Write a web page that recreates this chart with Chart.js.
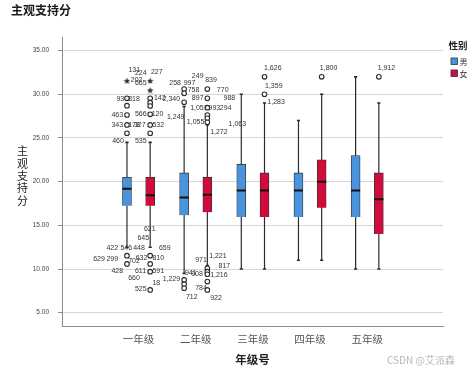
<!DOCTYPE html>
<html>
<head>
<meta charset="utf-8">
<script src="https://cdn.jsdelivr.net/npm/chart.js@4.4.0/dist/chart.umd.min.js"></script>
<style>
  html, body { margin: 0; padding: 0; background: #fff; }
  #wrap { width: 474px; height: 368px; position: relative; }
</style>
</head>
<body>
<div id="wrap"><canvas id="boxChart"></canvas></div>
<script>
const grades = ['一年级', '二年级', '三年级', '四年级', '五年级'];
const genders = ['男', '女'];
const yTicks = [5, 10, 15, 20, 25, 30, 35];

// [min, q1, median, q3, max] for each grade
const maleBox = [
  [12.5, 17.25, 19.2, 20.5, 24.5],
  [9.5, 16.2, 18.2, 21, 28.6],
  [10, 16, 19, 22, 30],
  [11, 16, 19, 21, 27],
  [10, 16, 19, 23, 32]
];
const femaleBox = [
  [12.5, 17.25, 18.45, 20.5, 24.5],
  [10.4, 16.5, 18.5, 20.5, 26.5],
  [10, 16, 19, 21, 29],
  [11, 17, 20, 22.5, 30],
  [10, 14, 18, 21, 29]
];

// outliers (circles) and extremes (stars)
const maleOutliers = [
  [29.54, 28.7, 27.63, 26.49, 25.54, 11.53, 10.58],
  [30.6, 30.11, 29.08, 8.75, 8.26, 7.8],
  [], [], []
];
const femaleOutliers = [
  [29.54, 29.04, 28.66, 27.71, 26.49, 25.54, 11.53, 10.58, 9.7, 7.61],
  [30.6, 29.54, 28.47, 27.63, 27.25, 26.8, 10.09, 9.7, 9.4, 8.56, 7.61],
  [30, 32],
  [32],
  [32]
];
const maleExtremes = [[31.56], [], [], [], []];
const femaleExtremes = [[31.56, 30.49], [], [], [], []];

// case numbers: [grade, gender (0 男 / 1 女), value, text]
const caseLabels = [
  [0, 0, 32.78, '131'], [0, 0, 31.64, '202'], [0, 0, 29.46, '93'], [0, 0, 29.46, '818'],
  [0, 0, 27.63, '463'], [0, 0, 26.49, '343'], [0, 0, 26.49, '178'], [0, 0, 24.66, '460'],
  [0, 0, 12.38, '422'], [0, 0, 12.38, '546'], [0, 0, 12.45, '448'], [0, 0, 11.16, '629'],
  [0, 0, 11.16, '299'], [0, 0, 10.93, '702'], [0, 0, 9.78, '428'], [0, 0, 8.94, '660'],
  [0, 1, 32.4, '224'], [0, 1, 32.5, '227'], [0, 1, 31.26, '665'], [0, 1, 29.54, '142'],
  [0, 1, 27.71, '566'], [0, 1, 27.71, '120'], [0, 1, 26.49, '327'], [0, 1, 26.49, '532'],
  [0, 1, 24.66, '535'], [0, 1, 14.56, '621'], [0, 1, 13.53, '645'], [0, 1, 12.45, '659'],
  [0, 1, 11.3, '632'], [0, 1, 11.3, '810'], [0, 1, 9.78, '611'], [0, 1, 9.78, '591'],
  [0, 1, 8.36, '18'], [0, 1, 7.71, '525'],
  [1, 0, 31.26, '258'], [1, 0, 31.26, '997'], [1, 0, 30.49, '758'], [1, 0, 29.43, '2,340'],
  [1, 0, 27.44, '1,249'], [1, 0, 9.52, '941'], [1, 0, 8.83, '1,229'], [1, 0, 6.84, '712'],
  [1, 1, 32.13, '249'], [1, 1, 31.64, '839'], [1, 1, 30.49, '770'], [1, 1, 29.54, '897'],
  [1, 1, 29.54, '988'], [1, 1, 28.47, '1,051'], [1, 1, 28.47, '993'], [1, 1, 28.47, '294'],
  [1, 1, 26.8, '1,055'], [1, 1, 26.57, '1,063'], [1, 1, 25.72, '1,272'], [1, 1, 11.53, '1,221'],
  [1, 1, 11.05, '971'], [1, 1, 10.3, '817'], [1, 1, 9.43, '908'], [1, 1, 9.27, '1,216'],
  [1, 1, 7.8, '784'], [1, 1, 6.73, '922'],
  [2, 1, 33.0, '1,626'], [2, 1, 30.95, '1,359'], [2, 1, 29.15, '1,283'],
  [3, 1, 33.0, '1,800'], [4, 1, 33.0, '1,912']
];
// left edge of each case label, px from its box centre (same order as caseLabels)
const labelDx = [
  1.5, 3.8, -10.5, 1.2, -15.5, -15.5, 1.2, -14.8,
  -20.5, -6.5, 6.2, -33.8, -20.5, 1.2, -15.5, 1.2,
  -15.2, 0.8, -15.2, 3.8, -15.2, 1.5, -16.2, 2.2,
  -15.2, -6.2, -12.8, 8.8, -14.5, 2.2, -15.2, 2.2,
  2.2, -15.2,
  -14.8, -0.5, 3.5, -21.5, -17.2, 0.8, -21.5, 1.8,
  -15.5, -2.2, 9.5, -15.5, 16.2, -17.2, 1.2, 12.5,
  -20.5, 21.2, 2.8, 1.8, -12.2, 11.2, -16.2, 2.8,
  -12.2, 2.8,
  -0.5, 0.5, 2.8, -1.8, -1.2
];

const blue = '#4a94dd';
const red = '#d10b3c';
const ink = '#2b2b2b';
const shift = 0.203;
const cjk = '"Noto Sans CJK SC", sans-serif';
const latin = '"Liberation Sans", Arial, sans-serif';

const xOf = (g, s) => g + (s === 0 ? -shift : shift);

function boxes(stats, s) {
  return stats.map((b, g) => ({ x: xOf(g, s), y: [b[1], b[3]] }));
}
function pick(stats, s, k) {
  return stats.map((b, g) => ({ x: xOf(g, s), y: b[k] }));
}
function whiskers() {
  const pts = [];
  [maleBox, femaleBox].forEach((stats, s) => {
    stats.forEach((b, g) => {
      pts.push({ x: xOf(g, s), y: b[4] }, { x: xOf(g, s), y: b[0] }, { x: xOf(g, s), y: null });
    });
  });
  return pts;
}
function points(lists) {
  const pts = [];
  lists.forEach((list, s) => list.forEach((vals, g) => vals.forEach(v => pts.push({ x: xOf(g, s), y: v }))));
  return pts;
}

function makeStar(size) {
  const c = document.createElement('canvas');
  c.width = c.height = size;
  const g = c.getContext('2d');
  g.fillStyle = ink;
  g.beginPath();
  for (let i = 0; i < 10; i++) {
    const r = i % 2 ? size * 0.22 : size / 2;
    const a = -Math.PI / 2 + i * Math.PI / 5;
    g.lineTo(size / 2 + r * Math.cos(a), size / 2 + 0.5 + r * Math.sin(a));
  }
  g.closePath();
  g.fill();
  return c;
}

const decor = {
  id: 'decor',
  afterDraw(chart) {
    const ctx = chart.ctx;
    const xs = chart.scales.x, ys = chart.scales.y;
    ctx.save();
    ctx.textBaseline = 'middle';

    // case number labels
    ctx.fillStyle = '#333';
    ctx.font = '7px ' + latin;
    ctx.textAlign = 'left';
    caseLabels.forEach((l, i) => {
      const px = xs.getPixelForValue(xOf(l[0], l[1]));
      ctx.fillText(l[3], px + labelDx[i], ys.getPixelForValue(l[2]));
    });

    // chart title
    ctx.fillStyle = '#1a1a1a';
    ctx.font = 'bold 12px ' + cjk;
    ctx.fillText('主观支持分', 11, 10.5);

    // y axis title, characters stacked
    ctx.textAlign = 'center';
    ctx.font = '11px ' + cjk;
    ctx.fillStyle = '#222';
    '主观支持分'.split('').forEach((ch, i) => ctx.fillText(ch, 22.5, 151 + i * 12.4));

    // legend
    ctx.textAlign = 'left';
    ctx.font = 'bold 9.5px ' + cjk;
    ctx.fillText('性别', 448.5, 45);
    ctx.font = '8px ' + cjk;
    [blue, red].forEach((c, i) => {
      const y = 58 + i * 12;
      ctx.fillStyle = c;
      ctx.fillRect(451, y, 6.5, 6.5);
      ctx.strokeStyle = '#333';
      ctx.lineWidth = 0.8;
      ctx.strokeRect(451, y, 6.5, 6.5);
      ctx.fillStyle = '#333';
      ctx.fillText(genders[i], 459.5, y + 3.5);
    });

    // watermark
    ctx.fillStyle = '#b8b8b8';
    ctx.font = '10px ' + cjk;
    ctx.fillText('CSDN @艾派森', 387, 360);
    ctx.restore();
  }
};

new Chart(document.getElementById('boxChart'), {
  type: 'bar',
  data: {
    datasets: [
      {
        type: 'line', label: 'whisker', data: whiskers(), order: 6,
        borderColor: ink, borderWidth: 1.2, pointRadius: 0, spanGaps: false
      },
      {
        type: 'scatter', label: 'cap', order: 5,
        data: pick(maleBox, 0, 0).concat(pick(maleBox, 0, 4), pick(femaleBox, 1, 0), pick(femaleBox, 1, 4)),
        pointStyle: 'line', pointRadius: 1.6, pointBorderWidth: 1.6, pointBorderColor: ink
      },
      {
        label: genders[0], data: boxes(maleBox, 0), order: 4, grouped: false,
        backgroundColor: blue, borderColor: '#333', borderWidth: 0.8, barThickness: 9
      },
      {
        label: genders[1], data: boxes(femaleBox, 1), order: 4, grouped: false,
        backgroundColor: red, borderColor: '#333', borderWidth: 0.8, barThickness: 9
      },
      {
        type: 'scatter', label: 'median', order: 2,
        data: pick(maleBox, 0, 2).concat(pick(femaleBox, 1, 2)),
        pointStyle: 'line', pointRadius: 4.5, pointBorderWidth: 2, pointBorderColor: '#111'
      },
      {
        type: 'scatter', label: 'outlier', order: 1,
        data: points([maleOutliers, femaleOutliers]),
        pointStyle: 'circle', pointRadius: 2.3, pointBorderWidth: 1.1,
        pointBorderColor: ink, pointBackgroundColor: '#fff'
      },
      {
        type: 'scatter', label: 'extreme', order: 1,
        data: points([maleExtremes, femaleExtremes]),
        pointStyle: makeStar(7), pointRadius: 3.5
      }
    ]
  },
  options: {
    responsive: true,
    maintainAspectRatio: false,
    animation: false,
    events: [],
    layout: { padding: { left: 0, top: 37, right: 31, bottom: 0 } },
    plugins: {
      legend: { display: false },
      tooltip: { enabled: false },
      title: { display: false }
    },
    scales: {
      x: {
        type: 'linear',
        min: -0.673,
        max: 4.659,
        afterBuildTicks: s => { s.ticks = grades.map((_, i) => ({ value: i })); },
        afterFit: s => { s.height = 41.5; },
        ticks: {
          callback: v => grades[v],
          color: '#555',
          font: { family: cjk, size: 10.5 },
          padding: 6,
          autoSkip: false,
          maxRotation: 0
        },
        grid: { display: false, drawTicks: false },
        border: { display: true, color: '#8c8c8c', width: 1 },
        title: {
          display: true,
          text: '年级号',
          color: '#222',
          font: { family: cjk, size: 11.5, weight: 'bold' },
          padding: { top: 0, bottom: 1 }
        }
      },
      y: {
        min: 3.42,
        max: 36.56,
        afterBuildTicks: s => { s.ticks = yTicks.map(v => ({ value: v })); },
        afterFit: s => { s.width = 62; },
        ticks: {
          callback: v => v.toFixed(2),
          color: '#444',
          font: { family: latin, size: 6.5 },
          padding: 9
        },
        grid: { color: '#d6d6d6', lineWidth: 1, tickLength: 4, tickColor: '#8c8c8c' },
        border: { color: '#8c8c8c', width: 1 }
      }
    }
  },
  plugins: [decor]
});
</script>
</body>
</html>
